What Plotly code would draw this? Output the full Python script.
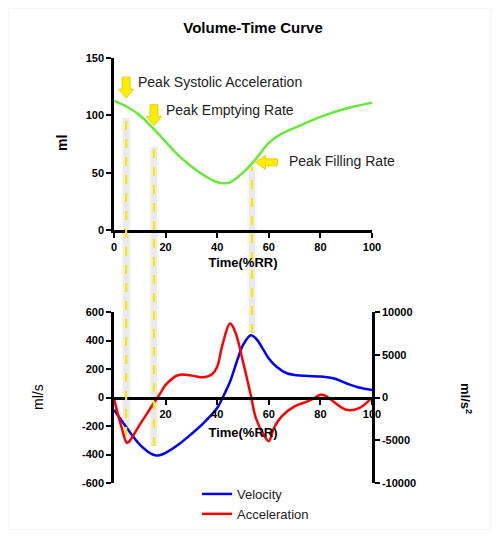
import plotly.graph_objects as go

# volume-time curve (ml vs %RR)
vol_time = [0, 5, 10, 15, 20, 25, 30, 35, 40, 43, 45, 50, 55, 60, 65, 70, 80, 90, 100]
volume = [112.5, 107.5, 100, 89, 77, 65, 55.4, 47.5, 41.6, 40.7, 41.6, 50, 62, 76, 84, 89, 98.7, 106, 111]

# velocity (ml/s)
vel_time = [0, 5, 10, 15, 17, 20, 25, 30, 35, 40, 42, 45, 48, 50, 53, 55, 58, 60, 63, 67, 70, 80, 85, 90, 95, 100]
velocity = [-86, -214, -330, -400, -407, -388, -330, -256, -174, -74, -5, 112, 274, 367, 437, 414, 333,
            274, 216, 170, 158, 147, 135, 100, 70, 53]

# acceleration (ml/s^2)
acc_time = [0, 3, 5, 6, 10, 15, 18, 20, 25, 30, 35, 38, 40, 42, 45, 47, 50, 53, 55, 58, 60, 62, 65, 70,
            75, 78, 80, 82, 85, 90, 95, 100]
acceleration = [-150, -3566, -5310, -5100, -3178, -853, 504, 1473, 2636, 2558, 2364, 2713, 3605, 6124,
                8643, 7674, 4186, 310, -2403, -4341, -5116, -3566, -2209, -1046, -465, 0, 310, 200,
                -465, -1434, -1240, 0]

# marked events
events = ["Peak Systolic Acceleration", "Peak Emptying Rate", "Peak Filling Rate"]
event_x = [4.7, 15.5, 53.5]
arrow_tip_ml = [115, 91, 59]
label_x = [8.5, 19.4, 67]
label_ml = [129, 105, 60]

# tick labels
vol_ticks = [0, 50, 100, 150]
time_ticks = [20, 40, 60, 80, 100]
vel_ticks = [-600, -400, -200, 0, 200, 400, 600]
acc_ticks = [-10000, -5000, 0, 5000, 10000]

# page keeps an 8px body margin; size the figure so it fits the window
W, H = 484, 522


def px(x):
    return (x - 8) / W


def py(y):
    return 1 - (y - 8) / H


axis_font = dict(family="Liberation Sans", size=11, color="black", weight="bold")
title_font = dict(family="Liberation Sans", size=13, color="black", weight="bold")

fig = go.Figure()
fig.add_scatter(x=vol_time, y=volume, mode="lines", line=dict(color="#66ea38", width=2.5, shape="spline"),
                xaxis="x", yaxis="y", showlegend=False)
fig.add_scatter(x=vel_time, y=velocity, mode="lines", name="Velocity",
                line=dict(color="#0000ff", width=2.5, shape="spline"), xaxis="x2", yaxis="y2")
fig.add_scatter(x=acc_time, y=acceleration, mode="lines", name="Acceleration",
                line=dict(color="#ff0000", width=2.5, shape="spline"), xaxis="x2", yaxis="y3")

common = dict(showline=True, linecolor="black", linewidth=2.5, ticks="outside", ticklen=5, tickwidth=2,
              tickcolor="black", showgrid=False, zeroline=False, tickfont=axis_font, automargin=False)

fig.update_layout(
    template="simple_white",
    width=W, height=H,
    margin=dict(l=0, r=0, t=0, b=0, pad=0, autoexpand=False),
    paper_bgcolor="white", plot_bgcolor="rgba(0,0,0,0)",
    title=dict(text="Volume-Time Curve", x=px(253), y=py(28), xanchor="center", yanchor="middle",
               font=dict(family="Liberation Sans", size=15, color="black", weight="bold")),
    xaxis=dict(domain=[px(114), px(372)], range=[0, 100], dtick=20, anchor="y",
               title=dict(text="Time(%RR)", font=title_font, standoff=6), **common),
    yaxis=dict(domain=[py(230), py(58)], range=[0, 150], tickvals=vol_ticks, anchor="x", **common),
    xaxis2=dict(domain=[px(114), px(372)], range=[0, 100], tickvals=time_ticks,
                anchor="free", position=py(398),
                title=dict(text="Time(%RR)", font=title_font, standoff=8), **common),
    yaxis2=dict(domain=[py(483), py(312)], range=[-600, 600], tickvals=vel_ticks,
                ticktext=[str(v) for v in vel_ticks], anchor="x2", **common),
    yaxis3=dict(domain=[py(483), py(312)], range=[-10000, 10000], tickvals=acc_ticks,
                ticktext=[str(v) for v in acc_ticks], anchor="x2", overlaying="y2",
                side="right", **common),
    legend=dict(x=px(197), y=py(479), xanchor="left", yanchor="top", bgcolor="rgba(0,0,0,0)",
                font=dict(family="Liberation Sans", size=13, color="#222")),
)

# axis titles
fig.add_annotation(text="ml", xref="paper", yref="paper", x=px(62), y=py(143), showarrow=False,
                   xanchor="center", yanchor="middle", textangle=-90,
                   font=dict(family="Liberation Sans", size=14, color="black", weight="bold"))
fig.add_annotation(text="ml/s", xref="paper", yref="paper", x=px(38), y=py(397), showarrow=False,
                   xanchor="center", yanchor="middle", textangle=-90,
                   font=dict(family="Liberation Sans", size=14, color="black"))
fig.add_annotation(text="ml/s<sup>2</sup>", xref="paper", yref="paper", x=px(466), y=py(398),
                   showarrow=False, xanchor="center", yanchor="middle", textangle=90,
                   font=dict(family="Liberation Sans", size=13, color="black", weight="bold"))

# event markers: soft glow + yellow dashed line, arrows and labels
line_top = [py(118), py(147), py(167)]
line_bot = [py(436), py(446), py(333)]
down_arrow = "M0,0 L-7.5,9 L-4,9 L-4,21 L4,21 L4,9 L7.5,9 Z"
left_arrow = "M0,0 L10,7 L10,3.5 L22,3.5 L22,-3.5 L10,-3.5 L10,-7 Z"
for i, name in enumerate(events):
    for w, c in [(10, "rgba(200,200,200,0.14)"), (6, "rgba(185,185,185,0.2)")]:
        fig.add_shape(type="line", xref="x", yref="paper", x0=event_x[i], x1=event_x[i],
                      y0=line_bot[i], y1=line_top[i], line=dict(color=c, width=w), layer="below",
                      opacity=1)
    fig.add_shape(type="line", xref="x", yref="paper", x0=event_x[i], x1=event_x[i],
                  y0=line_bot[i], y1=line_top[i], line=dict(color="#f8ea00", width=2.2, dash="dash"),
                  opacity=1)
    fig.add_shape(type="path", xref="x", yref="y", xsizemode="pixel", ysizemode="pixel",
                  xanchor=event_x[i] + (1.3 if i == 2 else 0), yanchor=arrow_tip_ml[i],
                  path=left_arrow if i == 2 else down_arrow, opacity=1,
                  fillcolor="#ffee00", line=dict(color="#d8c800", width=0.8))
    fig.add_annotation(text=name, xref="x", yref="y", x=label_x[i], y=label_ml[i], xanchor="left",
                       showarrow=False, font=dict(family="Liberation Sans", size=14, color="#222"))

# light frame round the picture
fig.add_shape(type="rect", xref="paper", yref="paper", x0=0.001, x1=0.999, y0=0.001, y1=0.999,
              fillcolor="rgba(0,0,0,0)", layer="below", line=dict(color="#e2e2e2", width=1))

fig.write_html("out.html")
